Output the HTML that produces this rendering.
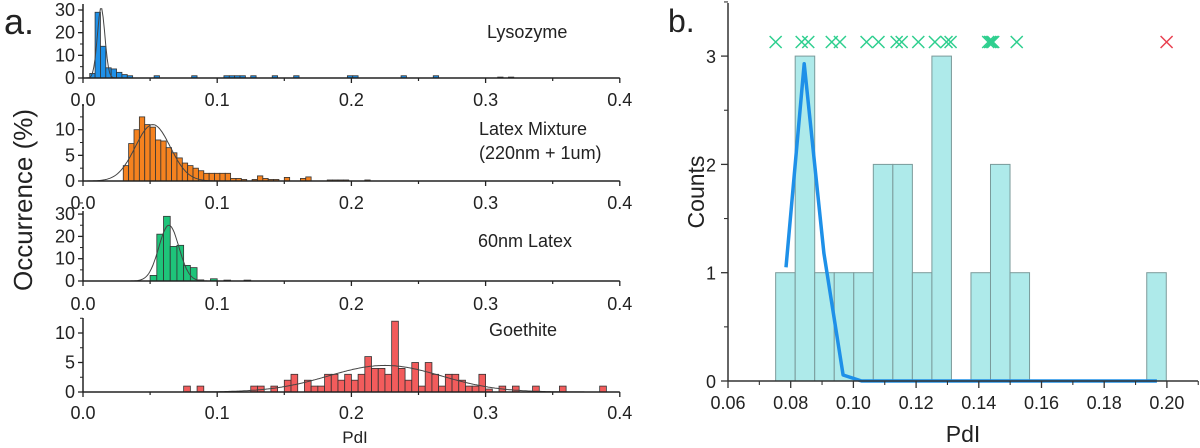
<!DOCTYPE html>
<html><head><meta charset="utf-8">
<style>
html,body{margin:0;padding:0;background:#fff;}
svg{display:block;font-family:"Liberation Sans",Arial,sans-serif;}
</style></head>
<body>
<svg id="fig" width="1200" height="448" viewBox="0 0 1200 448"></svg>
<script>
// ---- Panel a data ----
const lysoStart = 0.005, lysoWidth = 0.004;
const lysoCounts = [2,29,14,4.5,4,2.5,1.5,1,0,0,0,0,1,0,0,0,0,0,0,1,0,0,0,0,0,1,1,1,1,0,1,0,0,0,1,0,0,0,1,0,0,0,0,0,0,0,0,0,1,1,0,0,0,0,0,0,0,0,1,0,0,0,0,0,1,0,0,0,0,0,0,0,0,0,0,0,0.4,0,0.4];
const latexStart = 0.030, latexWidth = 0.004;
const latexCounts = [3,7.3,10,12.5,11,10.5,8,7.8,6.5,5.5,4.5,3.5,3,2.5,2,1.5,1.5,1.5,1.5,1.5,0.5,0.5,0.3,0,0.3,1,0.5,0.3,0.3,0,0.7,0,0,0.5,0.8,0,0,0,0.2,0.2,0.2,0.2,0,0,0,0.2];
const nm60Start = 0.050, nm60Width = 0.005;
const nm60Counts = [2.5,21,29,15.5,16,7,6,0.5,0,1,0,0.4,0,0,0.4];
const goeStart = 0.075, goeWidth = 0.005;
const goeCounts = [1,0,1,0,0,0,0,0,0,0,1,1,0,1,0,2,3,0,2,1,1,3,3,2,3,2,3,6,4,4,3,12,4,2,5,1,5,3,1,3,3,2,1,1,3,0.5,0,1,0,1,0,0,1,0,0,0,1,0,0,0,0,0,1];
// fit curves (gaussian params: center, height, sigma)
const lysoFit = [0.0135, 31, 0.0028];
const latexFit = [0.052, 11, 0.013];
const nm60Fit = [0.064, 25, 0.0075];
const goeFit = [0.225, 4.5, 0.042];
const xTicksA = [0.0,0.1,0.2,0.3,0.4];
const xTickLabelsA = ["0.0","0.1","0.2","0.3","0.4"];

// ---- Panel b data ----
const bStart = 0.0752, bWidth = 0.00623;
const bCounts = [1,3,1,1,1,2,2,1,3,0,1,2,1,0,0,0,0,0,0,1];
const lineX = [0.0785,0.0843,0.0906,0.0967,0.1026,0.1968];
const lineY = [1.05,2.93,1.18,0.055,0,0];
const crossGreen = [0.0752,0.0835,0.0856,0.0931,0.0957,0.1042,0.1080,0.1138,0.1154,0.1207,0.1260,0.1297,0.1310,0.1430,0.1436,0.1441,0.1446,0.1521];
const crossRed = [0.1999];
const crossLevel = 3.13;
const xTicksB = [0.06,0.08,0.10,0.12,0.14,0.16,0.18,0.20];
const xTickLabelsB = ["0.06","0.08","0.10","0.12","0.14","0.16","0.18","0.20"];
const yTicksB = [0,1,2,3];

const NS = "http://www.w3.org/2000/svg";
const svg = document.getElementById('fig');
function mk(tag, attrs, parent, text){
  const e = document.createElementNS(NS, tag);
  for (const k in attrs) e.setAttribute(k, attrs[k]);
  if (text !== undefined) e.textContent = text;
  (parent||svg).appendChild(e);
  return e;
}

const ax0 = 83, axScale = 1342;
const xA = v => ax0 + v*axScale;

const panels = [
  {name:'lysozyme', start:lysoStart, width:lysoWidth, counts:lysoCounts, fit:lysoFit, y0:78, pxPerUnit:68/30, top:4, yTicks:[0,10,20,30], minor:5, fill:'#1e90e8', label:['Lysozyme'], lx:487, ly:38, tickY:106},
  {name:'latex-mixture', start:latexStart, width:latexWidth, counts:latexCounts, fit:latexFit, y0:181, pxPerUnit:5.13, top:105, yTicks:[0,5,10], minor:2.5, fill:'#f5821f', label:['Latex Mixture','(220nm +  1um)'], lx:479, ly:135, tickY:209},
  {name:'latex-60nm', start:nm60Start, width:nm60Width, counts:nm60Counts, fit:nm60Fit, y0:281, pxPerUnit:2.23, top:211, yTicks:[0,10,20,30], minor:5, fill:'#1ec47a', label:['60nm Latex'], lx:478, ly:247, tickY:310},
  {name:'goethite', start:goeStart, width:goeWidth, counts:goeCounts, fit:goeFit, y0:392, pxPerUnit:5.9, top:318, yTicks:[0,5,10], minor:2.5, fill:'#f25c5c', label:['Goethite'], lx:489, ly:336, tickY:419}
];

panels.forEach(p => {
  const g = mk('g', {});
  
  
  const yA = v => p.y0 - v*p.pxPerUnit;
  p.counts.forEach((c,i) => {
    if (c <= 0) return;
    const x1 = xA(p.start + i*p.width), x2 = xA(p.start + (i+1)*p.width);
    const r = mk('rect', {x:x1, y:yA(c), width:x2-x1, height:p.y0-yA(c), fill:p.fill, stroke:'#333', 'stroke-width':0.8}, g);
    
    
  });
  let d = '';
  for (let v=0; v<=0.4; v+=0.001){
    const y = p.fit[1]*Math.exp(-0.5*Math.pow((v-p.fit[0])/p.fit[2],2));
    d += (d?'L':'M') + xA(v).toFixed(1) + ',' + yA(y).toFixed(1);
  }
  const fc = mk('path', {d:d, fill:'none', stroke:'#444', 'stroke-width':1}, g);
  
  
  mk('line', {x1:ax0, y1:p.top, x2:ax0, y2:p.y0, stroke:'#222', 'stroke-width':1.5}, g);
  mk('line', {x1:ax0, y1:p.y0, x2:xA(0.4), y2:p.y0, stroke:'#222', 'stroke-width':1.5}, g);
  xTicksA.forEach((t,i) => {
    mk('line', {x1:xA(t), y1:p.y0, x2:xA(t), y2:p.y0+5, stroke:'#222', 'stroke-width':1.3}, g);
    const tl = mk('text', {x:xA(t), y:p.tickY, 'font-size':18, 'text-anchor':'middle', fill:'#222'}, g, xTickLabelsA[i]);
    
    
    if (i<4) mk('line', {x1:xA(t+0.05), y1:p.y0, x2:xA(t+0.05), y2:p.y0+3, stroke:'#222', 'stroke-width':1.2}, g);
  });
  p.yTicks.forEach(t => {
    mk('line', {x1:ax0-5, y1:yA(t), x2:ax0, y2:yA(t), stroke:'#222', 'stroke-width':1.3}, g);
    const yl = mk('text', {x:ax0-8, y:yA(t)+6, 'font-size':18, 'text-anchor':'end', fill:'#222'}, g, String(t));
    
    
    mk('line', {x1:ax0-3, y1:yA(t+p.minor), x2:ax0, y2:yA(t+p.minor), stroke:'#222', 'stroke-width':1}, g);
  });
  p.label.forEach((s,i) => {
    const lt = mk('text', {x:p.lx, y:p.ly+i*24, 'font-size':18, fill:'#222'}, g, s);
    
    
  });
});

// ---- Panel b ----
const bx0 = 728, bxScale = 62.7/0.02;
const xB = v => bx0 + (v-0.06)*bxScale;
const yB = v => 381 - v*108.3;
const gb = mk('g', {});


bCounts.forEach((c,i) => {
  if (c <= 0) return;
  const x1 = xB(bStart + i*bWidth), x2 = xB(bStart + (i+1)*bWidth);
  const r = mk('rect', {x:x1, y:yB(c), width:x2-x1, height:yB(0)-yB(c), fill:'#aeeaea', stroke:'#7a9a9a', 'stroke-width':1}, gb);
  
  
});
let ld = '';
lineX.forEach((v,i) => { ld += (i?'L':'M') + xB(v).toFixed(1) + ',' + yB(lineY[i]).toFixed(1); });
const bl = mk('path', {d:ld, fill:'none', stroke:'#1e90e8', 'stroke-width':3.5, 'stroke-linejoin':'round'});


function cross(v, color){
  const cx = xB(v), cy = yB(crossLevel), s = 6;
  const c = mk('path', {d:`M${cx-s},${cy-s}L${cx+s},${cy+s}M${cx-s},${cy+s}L${cx+s},${cy-s}`, stroke:color, 'stroke-width':1.5, fill:'none'});
  
  
}
crossGreen.forEach(v => cross(v, '#2fcf8f'));
crossRed.forEach(v => cross(v, '#e84050'));
mk('line', {x1:bx0, y1:3, x2:bx0, y2:381, stroke:'#333', 'stroke-width':1.5});
mk('line', {x1:bx0, y1:381, x2:1198, y2:381, stroke:'#333', 'stroke-width':1.5});
xTicksB.forEach((t,i) => {
  mk('line', {x1:xB(t), y1:381, x2:xB(t), y2:388, stroke:'#333', 'stroke-width':1.3});
  mk('line', {x1:xB(t+0.01), y1:381, x2:xB(t+0.01), y2:385, stroke:'#333', 'stroke-width':1.1});
  const tl = mk('text', {x:xB(t), y:409, 'font-size':18, 'text-anchor':'middle', fill:'#222'}, undefined, xTickLabelsB[i]);
  
  
});
yTicksB.forEach(t => {
  mk('line', {x1:bx0-7, y1:yB(t), x2:bx0, y2:yB(t), stroke:'#333', 'stroke-width':1.3});
  mk('line', {x1:bx0-4, y1:yB(t+0.5), x2:bx0, y2:yB(t+0.5), stroke:'#333', 'stroke-width':1.1});
  const yl = mk('text', {x:bx0-12, y:yB(t)+7, 'font-size':18, 'text-anchor':'end', fill:'#222'}, undefined, String(t));
  
  
});
</script>
<div style="position:absolute;left:0;top:0;width:1200px;height:448px;pointer-events:none;">
  <svg width="1200" height="448" style="position:absolute;left:0;top:0" font-family="Liberation Sans, Arial, sans-serif">
    <text x="4" y="34" font-size="36" fill="#222">a.</text>
    <text x="668" y="32" font-size="32" fill="#222">b.</text>
    <text transform="translate(32,200) rotate(-90)" text-anchor="middle" font-size="26" fill="#222">Occurrence (%)</text>
    <text x="355" y="443" text-anchor="middle" font-size="17" fill="#222">PdI</text>
    <text transform="translate(704,192) rotate(-90)" text-anchor="middle" font-size="23" fill="#222">Counts</text>
    <text x="963" y="442" text-anchor="middle" font-size="23" fill="#222">PdI</text>
  </svg>
</div>
</body></html>
